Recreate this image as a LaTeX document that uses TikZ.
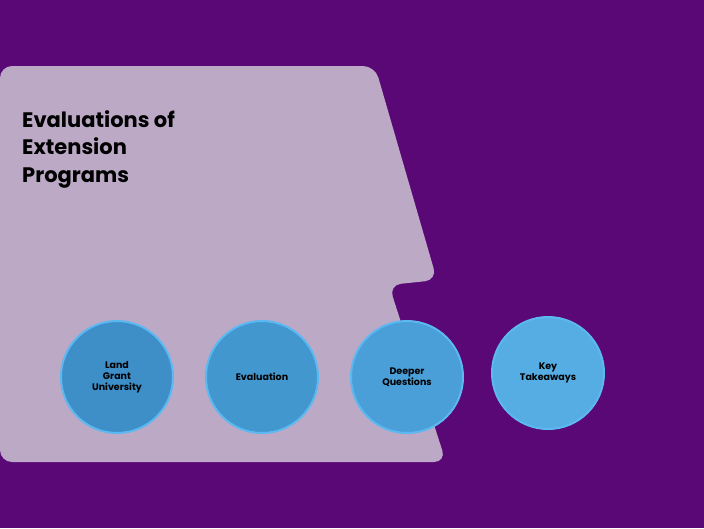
\documentclass[tikz,border=0pt]{standalone}
\usepackage{fontspec}
\setmainfont{Poppins}
\begin{document}
\begin{tikzpicture}[x=1pt,y=-1pt,
  bub/.style={circle,minimum size=112pt,draw=bubedge,line width=2pt,align=center,font=\fontsize{9.5}{11}\selectfont\bfseries,text=black,inner sep=0pt}]
\definecolor{bg}{HTML}{5A0875}
\definecolor{lav}{HTML}{BBA9C6}
\definecolor{bubedge}{HTML}{5BB8F0}
\fill[bg] (0,0) rectangle (704,528);
\useasboundingbox (0,0) rectangle (704,528);
\fill[lav,rounded corners=12pt] (0,66) -- (375,66) -- (437,280) -- (389,285) -- (446,462) -- (0,462) -- cycle;
\node[anchor=north west,align=left,font=\fontsize{21}{27.5}\selectfont\bfseries,text=black,inner sep=0pt] (title) at (22,110) {Evaluations of\\Extension\\Programs};
\node[bub,fill={rgb,255:red,62;green,143;blue,200}] (a) at (117,377) {Land\\Grant\\University};
\node[bub,fill={rgb,255:red,66;green,151;blue,207}] (b) at (262,377) {Evaluation};
\node[bub,fill={rgb,255:red,74;green,159;blue,216}] (c) at (407,377) {Deeper\\Questions};
\node[bub,fill={rgb,255:red,86;green,173;blue,227}] (d) at (548,373) {Key\\Takeaways};
\end{tikzpicture}
\end{document}
